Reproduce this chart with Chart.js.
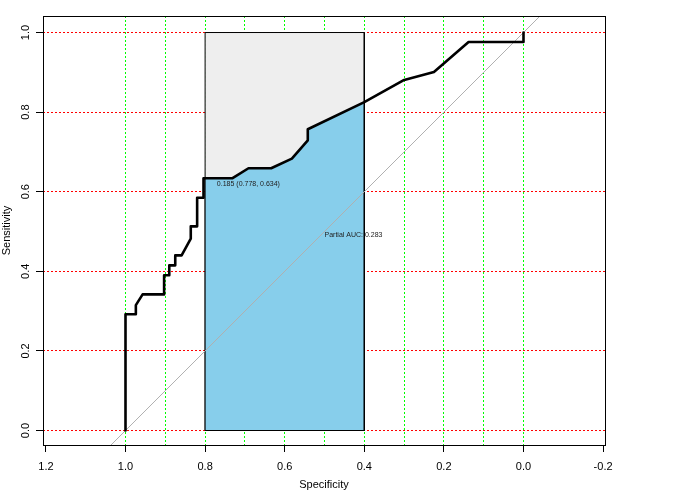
<!DOCTYPE html>
<html>
<head>
<meta charset="utf-8">
<script src="https://cdn.jsdelivr.net/npm/chart.js@4.4.1/dist/chart.umd.min.js"></script>
<style>
  html, body { margin: 0; padding: 0; background: #fff; }
  #wrap { width: 676px; height: 494px; }
</style>
</head>
<body>
<div id="wrap"><canvas id="roc"></canvas></div>
<script>
// ROC curve (specificity, sensitivity)
const rocSpec = [1.0, 1.0, 0.974, 0.974, 0.957, 0.903, 0.903, 0.890, 0.890, 0.875, 0.875, 0.859, 0.836, 0.836, 0.820, 0.820,
  0.804, 0.804, 0.731, 0.691, 0.634, 0.582, 0.542, 0.542, 0.400, 0.302, 0.225, 0.138, 0.0, 0.0]
const rocSens = [0.0, 0.292, 0.292, 0.315, 0.342, 0.342, 0.390, 0.390, 0.415, 0.415, 0.440, 0.440, 0.482, 0.513, 0.513, 0.585,
  0.585, 0.634, 0.634, 0.659, 0.659, 0.683, 0.729, 0.757, 0.825, 0.880, 0.901, 0.976, 0.976, 1.0]

const pAucRange = [0.8, 0.4]
const partialAuc = 0.283
const aucTextAt = { spec: 0.5, sens: 0.5 }
const bestThr = { thr: 0.185, spec: 0.778, sens: 0.634 }

const xTicks = [1.2, 1.0, 0.8, 0.6, 0.4, 0.2, 0.0, -0.2]
const yTicks = [0.0, 0.2, 0.4, 0.6, 0.8, 1.0]
const xGrid = [1.0, 0.9, 0.8, 0.7, 0.6, 0.5, 0.4, 0.3, 0.2, 0.1, 0.0]
const yGrid = [0.0, 0.2, 0.4, 0.6, 0.8, 1.0]
const xLimits = [-0.2048, 1.2073]
const yLimits = [-0.0364, 1.0415]

const FONT = "'Liberation Sans', Arial, sans-serif"

// sensitivity of the curve at a given specificity (for the edges of the pAUC area)
function sensAt(s) {
  for (let i = 0; i < rocSpec.length - 1; i++) {
    const a = rocSpec[i], b = rocSpec[i + 1]
    if (a !== b && a >= s && b <= s) {
      return rocSens[i] + (rocSens[i + 1] - rocSens[i]) * (a - s) / (a - b)
    }
  }
  return 0
}

const rocPoints = rocSpec.map((s, i) => ({ x: s, y: rocSens[i] }))

const [pFrom, pTo] = pAucRange
const aucArea = [{ x: pFrom, y: 0 }, { x: pFrom, y: sensAt(pFrom) }]
rocPoints.forEach(p => { if (p.x < pFrom && p.x > pTo) aucArea.push(p) })
aucArea.push({ x: pTo, y: sensAt(pTo) }, { x: pTo, y: 0 }, { x: pFrom, y: 0 })

const maxArea = [{ x: pFrom, y: 0 }, { x: pFrom, y: 1 }, { x: pTo, y: 1 }, { x: pTo, y: 0 }, { x: pFrom, y: 0 }]

const diagonal = [{ x: 1 - yLimits[0], y: yLimits[0] }, { x: 1 - yLimits[1], y: yLimits[1] }]

const rocPlugin = {
  id: 'rocExtras',
  beforeDatasetsDraw(chart) {
    const { ctx, chartArea: a, scales: { x, y } } = chart
    ctx.save()
    ctx.lineWidth = 1
    ctx.setLineDash([2, 2])
    ctx.strokeStyle = '#00ff00'
    xGrid.forEach(v => {
      const px = Math.floor(x.getPixelForValue(v)) + 0.5
      ctx.beginPath(); ctx.moveTo(px, a.top); ctx.lineTo(px, a.bottom); ctx.stroke()
    })
    ctx.strokeStyle = '#ff0000'
    yGrid.forEach(v => {
      const py = Math.floor(y.getPixelForValue(v)) + 0.5
      ctx.beginPath(); ctx.moveTo(a.left, py); ctx.lineTo(a.right, py); ctx.stroke()
    })
    ctx.restore()
  },
  afterDatasetsDraw(chart) {
    const { ctx, chartArea: a, scales: { x, y } } = chart
    ctx.save()
    ctx.fillStyle = '#222'
    ctx.font = '7px ' + FONT
    ctx.textAlign = 'left'
    ctx.textBaseline = 'middle'
    ctx.fillText(bestThr.thr.toFixed(3) + ' (' + bestThr.spec.toFixed(3) + ', ' + bestThr.sens.toFixed(3) + ')',
      x.getPixelForValue(bestThr.spec) + 3, y.getPixelForValue(bestThr.sens) + 6)
    ctx.fillText('Partial AUC: ' + partialAuc.toFixed(3),
      x.getPixelForValue(aucTextAt.spec), y.getPixelForValue(aucTextAt.sens) + 4)
    ctx.strokeStyle = '#000'
    ctx.lineWidth = 1
    ctx.strokeRect(a.left + 0.5, a.top + 0.5, a.right - a.left, a.bottom - a.top)
    ctx.restore()
  }
}

new Chart(document.getElementById('roc'), {
  type: 'line',
  data: {
    datasets: [
      {
        data: rocPoints,
        borderColor: '#000',
        borderWidth: 2.6,
        borderJoinStyle: 'round',
        borderCapStyle: 'round',
        pointRadius: 0,
        tension: 0,
        fill: false
      },
      {
        data: diagonal,
        borderColor: '#b0b0b0',
        borderWidth: 1,
        pointRadius: 0,
        fill: false
      },
      {
        data: aucArea,
        borderColor: '#000',
        borderWidth: 1,
        backgroundColor: '#87ceeb',
        pointRadius: 0,
        fill: 'shape'
      },
      {
        data: maxArea,
        borderColor: '#000',
        borderWidth: 1,
        backgroundColor: '#eeeeee',
        pointRadius: 0,
        fill: 'shape'
      }
    ]
  },
  options: {
    responsive: true,
    maintainAspectRatio: false,
    animation: false,
    layout: { padding: { top: 16, right: 71, bottom: 0, left: 0 } },
    plugins: {
      legend: { display: false },
      tooltip: { enabled: false }
    },
    scales: {
      x: {
        type: 'linear',
        reverse: true,
        min: xLimits[0],
        max: xLimits[1],
        afterBuildTicks: s => {
          s.ticks = xTicks.map(v => ({ value: v }))
          s.min = xLimits[0]; s.max = xLimits[1]
        },
        afterFit: s => { s.height = 49; s.paddingLeft = 0; s.paddingRight = 0 },
        ticks: {
          callback: v => v.toFixed(1),
          maxRotation: 0,
          autoSkip: false,
          padding: 8,
          color: '#000',
          font: { family: FONT, size: 11 }
        },
        grid: { drawOnChartArea: false, tickLength: 7, color: '#000', lineWidth: 1 },
        border: { display: false },
        title: {
          display: true,
          text: 'Specificity',
          color: '#000',
          font: { family: FONT, size: 11 },
          padding: { top: 0, bottom: 2 }
        }
      },
      y: {
        type: 'linear',
        min: yLimits[0],
        max: yLimits[1],
        afterBuildTicks: s => {
          s.ticks = yTicks.map(v => ({ value: v }))
          s.min = yLimits[0]; s.max = yLimits[1]
        },
        afterFit: s => { s.width = 43; s.paddingTop = 0; s.paddingBottom = 0 },
        ticks: {
          callback: v => v.toFixed(1),
          minRotation: 90,
          maxRotation: 90,
          crossAlign: 'center',
          padding: 2,
          color: '#000',
          font: { family: FONT, size: 11 }
        },
        grid: { drawOnChartArea: false, tickLength: 7, color: '#000', lineWidth: 1 },
        border: { display: false },
        title: {
          display: true,
          text: 'Sensitivity',
          color: '#000',
          font: { family: FONT, size: 11 },
          padding: { top: 0, bottom: 0 }
        }
      }
    }
  },
  plugins: [rocPlugin]
})
</script>
</body>
</html>
